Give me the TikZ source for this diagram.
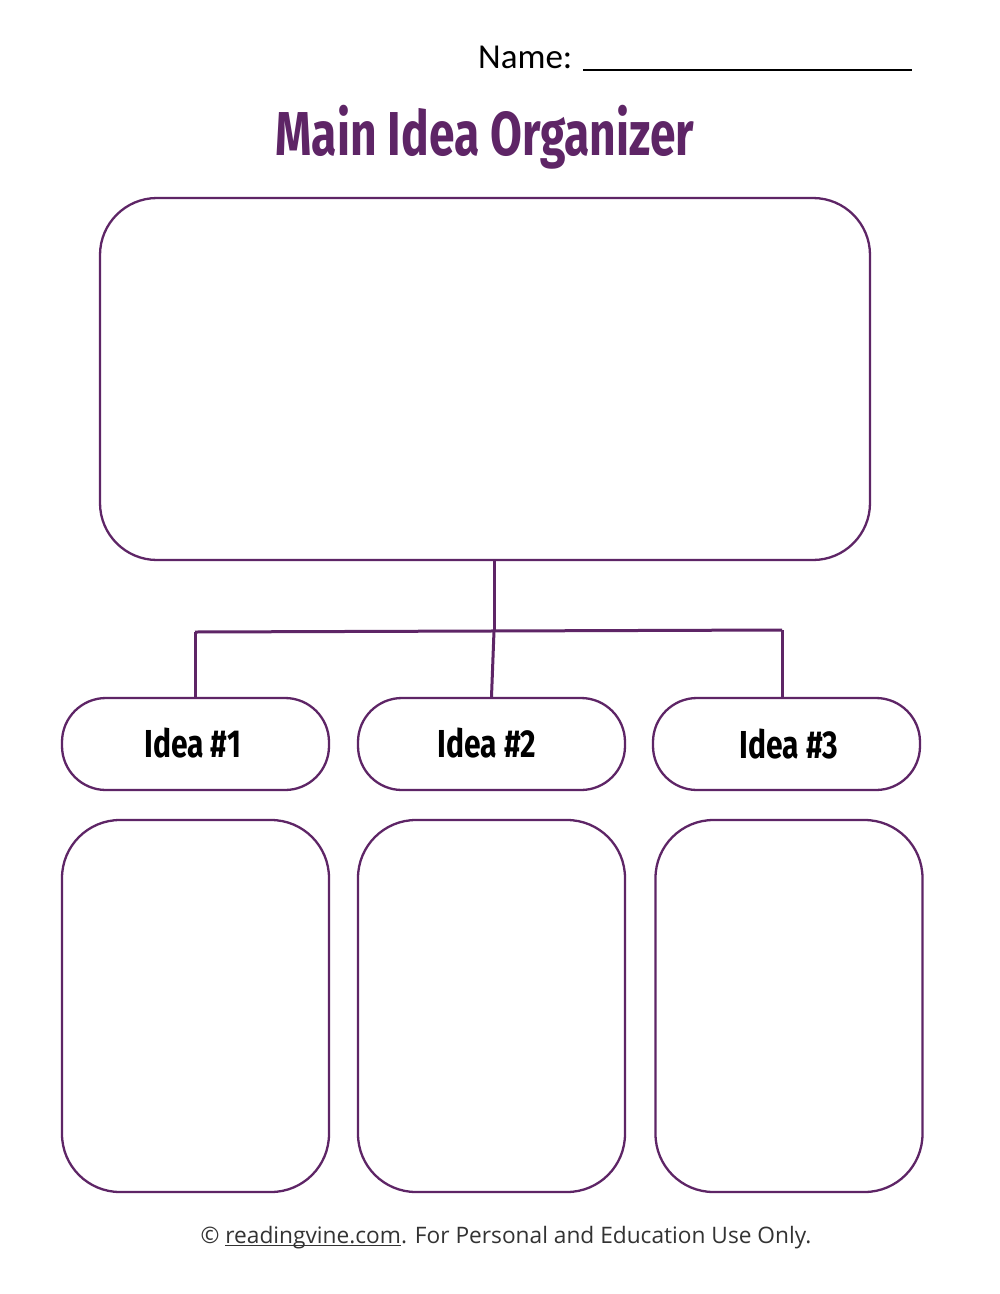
\documentclass[tikz,border=0pt]{standalone}
\usepackage{fontspec}
\setmainfont{Open Sans}
\newfontfamily\namefont{Carlito}
\newfontfamily\titlefont{Fira Sans}
\usetikzlibrary{calc}
\definecolor{purp}{HTML}{5E2566}
\definecolor{foot}{HTML}{333333}
\newcommand\footul[1]{\setbox0\hbox{#1}\rlap{\rule[-2.5pt]{\wd0}{1pt}}\box0}
\newcommand\idealabel[1]{\scalebox{0.77}[1]{#1}}
\begin{document}
\begin{tikzpicture}[x=1pt,y=-1pt,
  box/.style={draw=purp, line width=2.3pt, inner sep=0pt, fill=white},
  bigbox/.style={box, rounded corners=57pt},
  ideabox/.style={box, rounded corners=44pt, minimum width=267pt, minimum height=92pt,
    font=\titlefont\bfseries\fontsize{39}{40}\selectfont},
  detailbox/.style={box, rounded corners=58pt, minimum width=267pt, minimum height=372pt},
  conn/.style={draw=purp, line width=3pt}]
\useasboundingbox (0,0) rectangle (1000,1294);
\fill[white] (0,0) rectangle (1000,1294);

% header
\node[anchor=base west, inner sep=0pt, font=\namefont\fontsize{35}{40}\selectfont] (name) at (478,68) {Name:};
\coordinate (ul) at (583,70);
\coordinate (ur) at (912,70);
\draw[line width=2pt] (ul) -- (ur);

\node[anchor=base, inner sep=0pt, text=purp, font=\titlefont\bfseries\fontsize{62}{64}\selectfont] (title) at (485,155)
  {\scalebox{0.745}[1]{Main Idea Organizer}};

% main box
\node[bigbox, minimum width=770pt, minimum height=362pt] (main) at (485,379) {};

% idea boxes
\node[ideabox] (i1) at (195.5,744) {\hspace*{-5pt}\raisebox{3pt}{\idealabel{Idea \#1}}};
\node[ideabox] (i2) at (491.5,744) {\hspace*{-9pt}\raisebox{3pt}{\idealabel{Idea \#2}}};
\node[ideabox] (i3) at (786.5,744) {\hspace*{5pt}\idealabel{Idea \#3}};

% detail boxes
\node[detailbox] (b1) at (195.5,1006) {};
\node[detailbox] (b2) at (491.5,1006) {};
\node[detailbox] (b3) at (789,1006) {};

% connectors
\coordinate (j) at (494,631);
\coordinate (hl) at (195,632);
\coordinate (hr) at (782,630);
\draw[conn] (main.south -| j) -- (j);
\draw[conn] (hl) -- (hr);
\draw[conn] (hl) -- (hl |- i1.north);
\draw[conn] (j) -- (i2.north);
\draw[conn] (hr) -- (hr |- i3.north);

% footer
\node[anchor=base, inner sep=0pt, text=foot, font=\fontsize{22.7}{26}\selectfont] (footer) at (506,1243)
  {© \footul{readingvine.com}. For Personal and Education Use Only.};
\end{tikzpicture}
\end{document}
